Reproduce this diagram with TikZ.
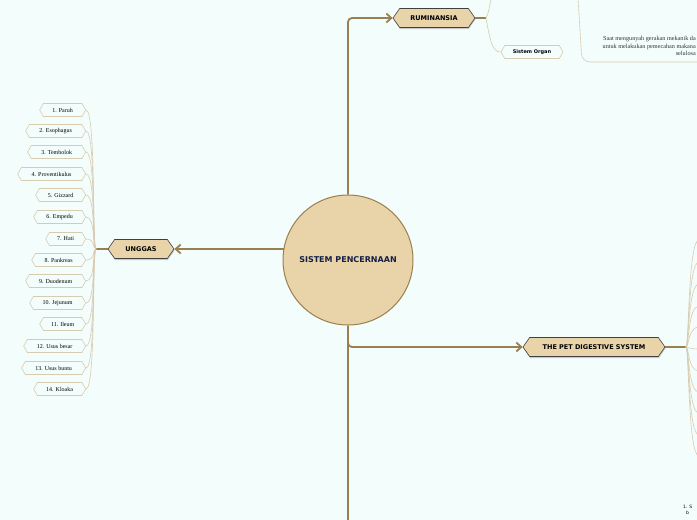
\documentclass[tikz,border=0pt]{standalone}
\usepackage{fontspec}
\setmainfont{Liberation Serif}
\newfontfamily\hd{DejaVu Sans}
\usetikzlibrary{shapes.misc,shapes.symbols,arrows.meta,shapes.geometric,shadows}
\definecolor{bg}{HTML}{F3FDFC}
\definecolor{br}{HTML}{9A8050}
\definecolor{tan}{HTML}{E9D3A9}
\definecolor{lt}{HTML}{D8CCB0}
\tikzset{
 main/.style={signal,signal to=east and west,signal pointer angle=110,draw=black!75,fill=tan,line width=0.6pt,font=\hd\bfseries\fontsize{6.5}{7}\selectfont,inner xsep=6pt,minimum height=19pt,drop shadow={opacity=0.4,shadow xshift=0.5pt,shadow yshift=-1.5pt}},
 sub/.style={signal,signal to=east and west,signal pointer angle=120,draw=lt,fill=bg,line width=0.6pt,font=\fontsize{6}{7}\selectfont,inner xsep=6pt,minimum height=13pt,inner ysep=1pt},
 conn/.style={draw=br,line width=1.8pt},
 thin/.style={draw=lt,line width=0.6pt},
}
\begin{document}
\begin{tikzpicture}[x=1pt,y=-1pt]
\fill[bg] (0,0) rectangle (697,520);
\useasboundingbox (0,0) rectangle (697,520);
\node[circle,draw=br,fill=tan,line width=1pt,minimum size=130pt,font=\hd\bfseries\fontsize{8}{9}\selectfont,text={rgb,255:red,20;green,30;blue,70}] (c) at (348,260) {SISTEM PENCERNAAN};
\node[main,minimum width=82pt] (r) at (434,18) {RUMINANSIA};
\node[main,minimum width=66pt] (u) at (141,249) {UNGGAS};
\node[main,minimum width=142pt] (p) at (594,347) {THE PET DIGESTIVE SYSTEM};
\coordinate (bot) at (348,520);
\coordinate (cw) at (284,249);
\draw[conn,-{Straight Barb[length=5pt,width=9pt]},rounded corners=4pt] (c.north) -- (348,18) -- (r.west);
\draw[conn,-{Straight Barb[length=5pt,width=9pt]}] (cw) -- (u.east);
\draw[conn,-{Straight Barb[length=5pt,width=9pt]},rounded corners=4pt] (c.south) -- (348,347) -- (p.west);
\draw[conn] (c.south) -- (bot);
% unggas children
\coordinate (uj) at (96,249);
\draw[br,line width=1.2pt] (u.west) -- (uj);
\foreach \t/\y/\w [count=\i] in {1. Paruh/110/46,2. Esophagus/131/60,3. Tembolok/152/58,4. Proventikulus/174/68,5. Gizzard/195/50,6. Empedu/217/52,7. Hati/239/40,8. Pankreas/260/54,9. Duodenum/281/60,10. Jejunum/303/56,11. Ileum/324/46,12. Usus besar/346/62,13. Usus buntu/368/64,14. Kloaka/389/52}{
 \node[sub,minimum width=\w pt,anchor=east] (n\i) at (86,\y) {\t};
 \draw[thin] (uj) .. controls (92,249) and (96,\y) .. (n\i.east);
}
% ruminansia children
\coordinate (rj) at (486,18);
\node[sub,minimum width=62pt,font=\hd\bfseries\fontsize{5}{6}\selectfont] (so) at (532,52) {Sistem Organ};
\draw[br,line width=1.2pt] (r.east) -- (rj);
\draw[thin] (rj) .. controls (490,10) and (490,0) .. (492,-2);
\draw[thin] (rj) .. controls (490,40) and (492,52) .. (so.west);
\node[align=right,anchor=north east,font=\fontsize{6.2}{7.5}\selectfont,inner sep=0pt,text=black!80] (st) at (696,36) {Saat mengunyah gerakan mekanik da\\untuk melakukan pemecahan makana\\selulosa\hspace{26pt}};
\draw[thin,rounded corners=8pt] (578,-2) -- (582,62) -- (697,62);
% pet children
\coordinate (pj) at (686,347);
\draw[br,line width=1.2pt] (p.east) -- (pj);
\foreach \y in {240,262,284,306,327,349,371,392,413,435,456}{
 \draw[thin] (pj) .. controls (689,347) and (688,\y) .. (699,\y);
}
\node[font=\hd\fontsize{4.5}{6}\selectfont,anchor=north west,inner sep=0pt,align=left] (b) at (683,505) {1. S\\\ \ b};
\end{tikzpicture}
\end{document}
